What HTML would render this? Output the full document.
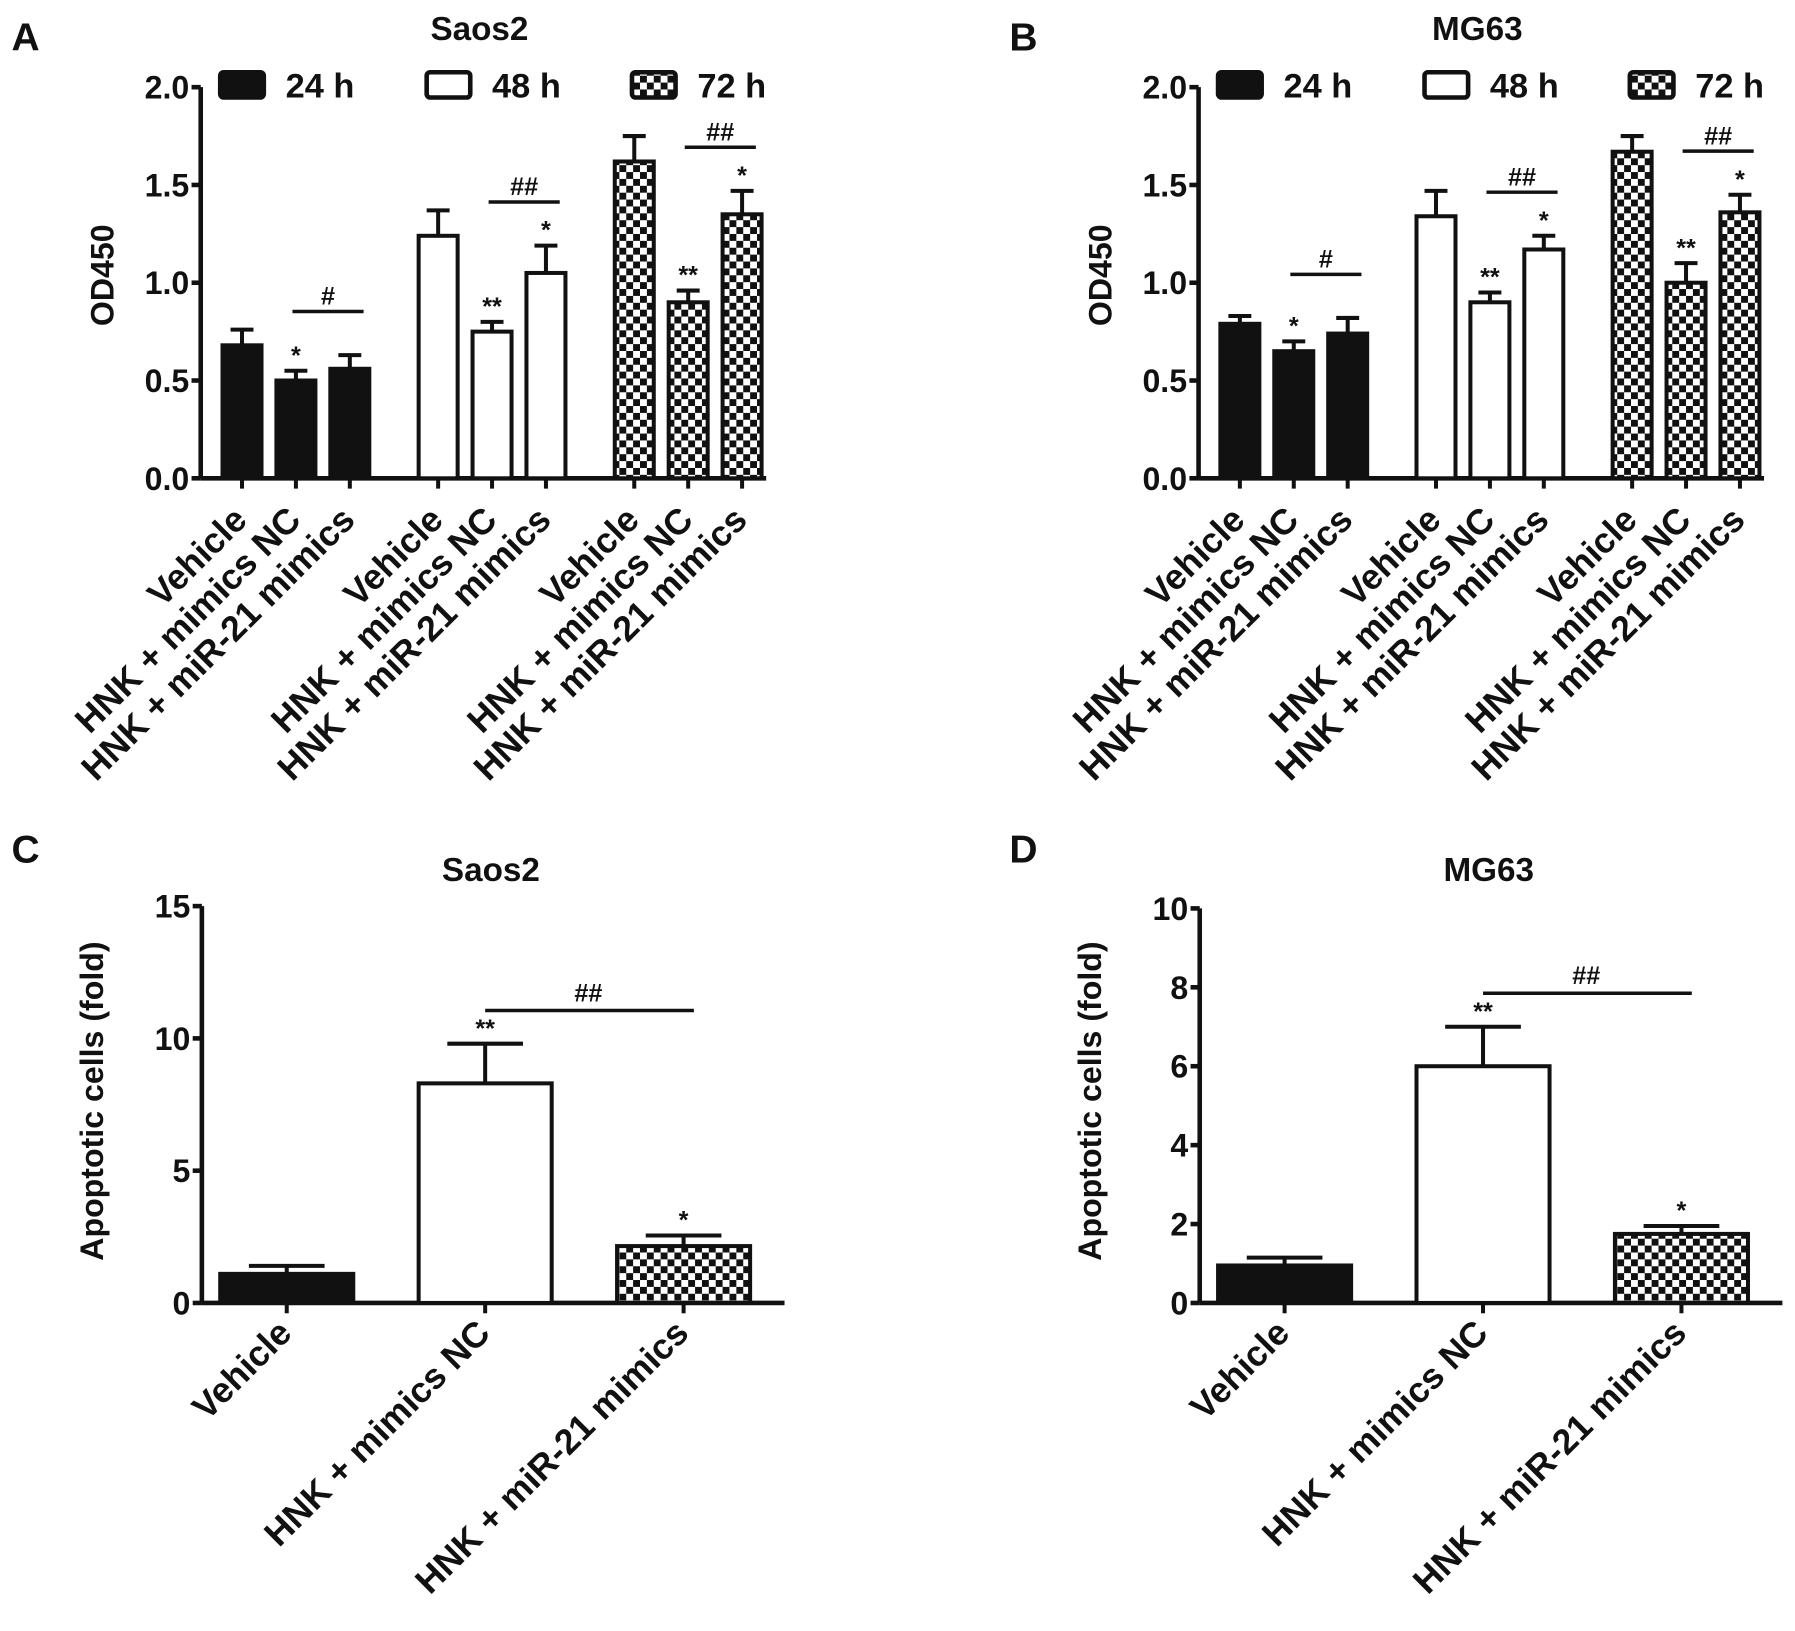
<!DOCTYPE html>
<html><head><meta charset="utf-8"><style>
html,body{margin:0;padding:0;background:#fff}
svg{display:block}
text{font-family:"Liberation Sans",Arial,sans-serif;font-weight:bold;fill:#111}
</style></head><body>
<svg id="fig" width="1795" height="1631" viewBox="0 0 1565 1422" xmlns="http://www.w3.org/2000/svg">
<defs>
<pattern id="chk" width="12" height="12" patternUnits="userSpaceOnUse">
<rect width="12" height="12" fill="#fff"/><rect width="6" height="6" fill="#111"/><rect x="6" y="6" width="6" height="6" fill="#111"/>
</pattern>
</defs>
<g id="root"></g>
</svg>
<script>
// Panel A/B data (OD450)
const abCats = ["Vehicle","HNK + mimics NC","HNK + miR-21 mimics"];
const abSeries = ["24 h","48 h","72 h"];
const aVals = [[0.68,0.50,0.56],[1.24,0.75,1.05],[1.62,0.90,1.35]];
const aErr  = [[0.08,0.05,0.07],[0.13,0.05,0.14],[0.13,0.06,0.12]];
const bVals = [[0.79,0.65,0.74],[1.34,0.90,1.17],[1.67,1.00,1.36]];
const bErr  = [[0.04,0.05,0.08],[0.13,0.05,0.07],[0.08,0.10,0.09]];
const abStars = [["","*",""],["","**","*"],["","**","*"]];
const abHash = ["#","##","##"];
const abTicks = ["0.0","0.5","1.0","1.5","2.0"];
// Panel C/D data (apoptotic fold)
const cdCats = ["Vehicle","HNK + mimics NC","HNK + miR-21 mimics"];
const cVals = [1.1,8.3,2.15];
const cErr  = [0.3,1.5,0.4];
const dVals = [0.95,6.0,1.75];
const dErr  = [0.2,1.0,0.2];
const cdStars = ["","**","*"];
const cTicks = ["0","5","10","15"];
const dTicks = ["0","2","4","6","8","10"];

const NS="http://www.w3.org/2000/svg";
const root=document.getElementById('root');
function el(tag,attrs,parent,txt){const e=document.createElementNS(NS,tag);for(const k in attrs)e.setAttribute(k,attrs[k]);if(txt!==undefined)e.textContent=txt;(parent||root).appendChild(e);return e;}
const fills=["#111","#fff","url(#chk)"];

function panelAB(ox,letter,title,vals,errs){
  const g=el('g',{});
  
  
  const y0=417, ymax=2.0, h=341, axX=175+ox, axEnd=668+ox;
  const y=v=>y0-v/ymax*h;
  const xc=(gi,ci)=>211+ox+gi*171+ci*47;
  let t=el('text',{x:10+ox,y:44,'font-size':34},g,letter);
  
  t=el('text',{x:418+ox,y:35,'font-size':29,'text-anchor':'middle'},g,title);
  
  const lx=[192,372,551];
  abSeries.forEach((s,i)=>{
    const r=el('rect',{x:lx[i]+ox,y:63,width:38,height:22,rx:3,fill:fills[i],stroke:'#111','stroke-width':4},g);
    
    const tt=el('text',{x:lx[i]+ox+57,y:85,'font-size':30},g,s);
    
  });
  let a=el('line',{x1:axX,y1:y(2),x2:axX,y2:y0,stroke:'#111','stroke-width':4},g);
  
  a=el('line',{x1:axX,y1:y0,x2:axEnd,y2:y0,stroke:'#111','stroke-width':4},g);
  
  abTicks.forEach(tk=>{
    const v=parseFloat(tk);
    el('line',{x1:axX-8,y1:y(v),x2:axX,y2:y(v),stroke:'#111','stroke-width':4},g);
    const l=el('text',{x:axX-10,y:y(v)+10,'font-size':28,'text-anchor':'end'},g,tk);
    
  });
  const yl=el('text',{x:0,y:0,'font-size':28,'text-anchor':'middle',transform:`translate(${99+ox},240) rotate(-90)`},g,'OD450');
  
  vals.forEach((grp,gi)=>grp.forEach((v,ci)=>{
    const cx=xc(gi,ci), e=errs[gi][ci], bw=34;
    el('line',{x1:cx,y1:y(v+e),x2:cx,y2:y(v),stroke:'#111','stroke-width':3.5},g);
    el('line',{x1:cx-10,y1:y(v+e),x2:cx+10,y2:y(v+e),stroke:'#111','stroke-width':3.5},g);
    const b=el('rect',{x:cx-bw/2,y:y(v),width:bw,height:y0-y(v),fill:fills[gi],stroke:'#111','stroke-width':3.5},g);
    
    el('line',{x1:cx,y1:y0,x2:cx,y2:y0+9,stroke:'#111','stroke-width':3.5},g);
    if(abStars[gi][ci]){const s=el('text',{x:cx,y:y(v+e)-6,'font-size':22,'font-weight':'normal','text-anchor':'middle',fill:'#333'},g,abStars[gi][ci]);
      }
    const lab=el('text',{x:0,y:0,'font-size':31,'text-anchor':'end',transform:`translate(${cx+6},${y0+38}) rotate(-45)`},g,abCats[ci]);
    
  }));
  vals.forEach((grp,gi)=>{
    const top=Math.max(grp[1]+errs[gi][1],grp[2]+errs[gi][2]);
    const by=y(top)-38;
    const x1=xc(gi,1)-3,x2=xc(gi,2)+12;
    const ln=el('line',{x1:x1,y1:by,x2:x2,y2:by,stroke:'#111','stroke-width':3},g);
    
    const ht=el('text',{x:(x1+x2)/2,y:by-6,'font-size':22,'font-weight':'normal','text-anchor':'middle',fill:'#333'},g,abHash[gi]);
    
  });
}

function panelCD(ox,letter,title,vals,errs,ticks,ymax,hashY){
  const g=el('g',{});
  
  
  const y0=1136, h=ymax===15?346:344, axX=176+ox, axEnd=684+ox;
  const y=v=>y0-v/ymax*h;
  const xc=i=>250+ox+i*173;
  let t=el('text',{x:10+ox,y:752,'font-size':34},g,letter);
  
  t=el('text',{x:428+ox,y:768,'font-size':29,'text-anchor':'middle'},g,title);
  
  let a=el('line',{x1:axX,y1:y(ymax),x2:axX,y2:y0,stroke:'#111','stroke-width':4},g);
  
  a=el('line',{x1:axX,y1:y0,x2:axEnd,y2:y0,stroke:'#111','stroke-width':4},g);
  
  ticks.forEach(tk=>{
    const v=parseFloat(tk);
    el('line',{x1:axX-8,y1:y(v),x2:axX,y2:y(v),stroke:'#111','stroke-width':4},g);
    const l=el('text',{x:axX-10,y:y(v)+10,'font-size':28,'text-anchor':'end'},g,tk);
    
  });
  const yl=el('text',{x:0,y:0,'font-size':28,'text-anchor':'middle',transform:`translate(${90+ox},960) rotate(-90)`},g,'Apoptotic cells (fold)');
  
  vals.forEach((v,i)=>{
    const cx=xc(i),e=errs[i],bw=116;
    el('line',{x1:cx,y1:y(v+e),x2:cx,y2:y(v),stroke:'#111','stroke-width':3.5},g);
    el('line',{x1:cx-33,y1:y(v+e),x2:cx+33,y2:y(v+e),stroke:'#111','stroke-width':3.5},g);
    const b=el('rect',{x:cx-bw/2,y:y(v),width:bw,height:y0-y(v),fill:fills[i],stroke:'#111','stroke-width':3.5},g);
    
    el('line',{x1:cx,y1:y0,x2:cx,y2:y0+9,stroke:'#111','stroke-width':3.5},g);
    if(cdStars[i]){const s=el('text',{x:cx,y:y(v+e)-6,'font-size':22,'font-weight':'normal','text-anchor':'middle',fill:'#333'},g,cdStars[i]);
      }
    const lab=el('text',{x:0,y:0,'font-size':31,'text-anchor':'end',transform:`translate(${cx+6},${y0+28}) rotate(-45)`},g,cdCats[i]);
    
  });
  const ln=el('line',{x1:xc(1),y1:hashY,x2:xc(2)+9,y2:hashY,stroke:'#111','stroke-width':3},g);
  
  const ht=el('text',{x:xc(1)+90,y:hashY-8,'font-size':22,'font-weight':'normal','text-anchor':'middle',fill:'#333'},g,'##');
  
}

panelAB(0,'A','Saos2',aVals,aErr);
panelAB(870,'B','MG63',bVals,bErr);
panelCD(0,'C','Saos2',cVals,cErr,cTicks,15,881);
panelCD(870,'D','MG63',dVals,dErr,dTicks,10,866);
</script>
</body></html>
